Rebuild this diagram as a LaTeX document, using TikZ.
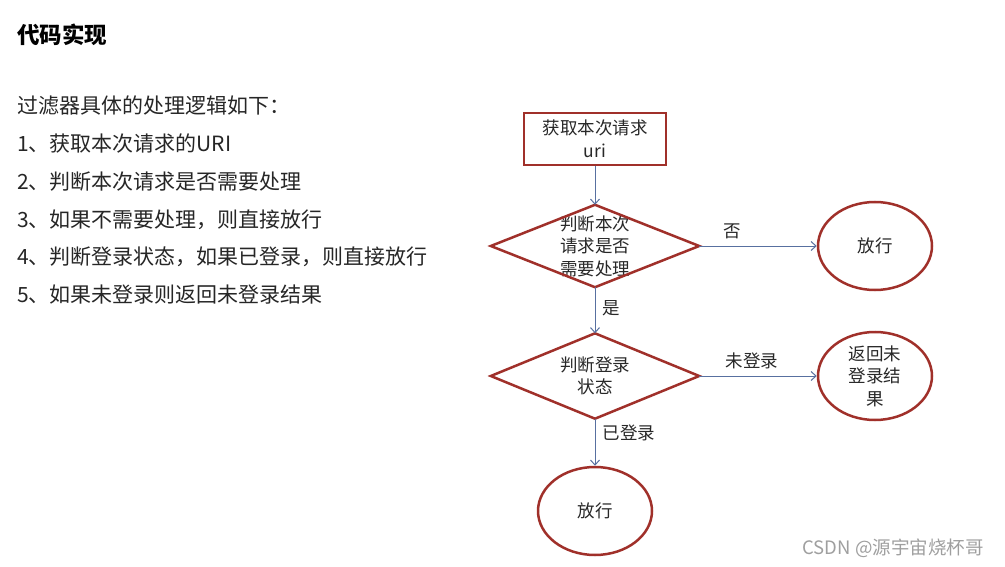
\documentclass[tikz,border=0pt]{standalone}
\usepackage{fontspec}
\setmainfont{Noto Sans CJK SC}
\usetikzlibrary{shapes.geometric,arrows.meta}
\definecolor{boxred}{RGB}{160,48,42}
\definecolor{linkblue}{RGB}{88,112,160}
\definecolor{inkgray}{RGB}{40,40,40}
\tikzstyle{arrow} = [linkblue, line width=1pt, -{Straight Barb[length=5pt,width=9pt]}]
\tikzstyle{process} = [draw=boxred, line width=2.5pt, minimum width=142pt, minimum height=52pt, align=center]
\tikzstyle{decision} = [minimum width=208pt, minimum height=82pt, inner sep=0pt, align=center]
\tikzstyle{terminal} = [ellipse, draw=boxred, line width=2.5pt, minimum width=114pt, minimum height=88pt, align=center, inner sep=0pt]
\tikzstyle{listtext} = [anchor=west, inner sep=0pt, font=\fontsize{21}{24}\selectfont, text=black!85]
\tikzstyle{branch} = [text=inkgray]

\begin{document}
\begin{tikzpicture}[x=1pt, y=-1pt, font=\fontsize{17.5}{22.5}\selectfont, text=inkgray]
  \useasboundingbox[fill=white] (0,0) rectangle (1005,567);
  % left column
  \node[anchor=west, inner sep=0pt, font=\fontsize{22.5}{26}\selectfont\bfseries, text=black] (title) at (17,35) {代码实现};
  \node[listtext] (intro) at (17,106) {过滤器具体的处理逻辑如下：};
  \foreach \i/\txt in {1/{1、获取本次请求的URI}, 2/{2、判断本次请求是否需要处理}, 3/{3、如果不需要处理，则直接放行}, 4/{4、判断登录状态，如果已登录，则直接放行}, 5/{5、如果未登录则返回未登录结果}}
    \node[listtext] (item\i) at (17,106+37.8*\i) {\txt};
  % flow chart
  \node[process] (req) at (595,139) {获取本次请求\\uri};
  \node[decision, below of=req, node distance=107pt] (chk) {判断本次\\请求是否\\需要处理};
  \node[decision, below of=chk, node distance=130pt, minimum height=85pt] (login) {判断登录\\状态};
  \node[terminal, below of=login, node distance=135pt] (pass2) {放行};
  \node[terminal, right of=chk, node distance=280pt] (pass1) {放行};
  \node[terminal, right of=login, node distance=280pt] (ret) {返回未\\登录结\\果};
  \foreach \d in {chk,login}
    \draw[boxred, line width=2.5pt] (\d.north) -- (\d.east) -- (\d.south) -- (\d.west) -- cycle;
  \draw[arrow] (req) -- (chk);
  \draw[arrow] (chk.east) -- node[branch, above, pos=0.28, yshift=3pt] (no) {否} (pass1);
  \draw[arrow] (chk) -- node[branch, right, xshift=4pt, yshift=2pt] (yes) {是} (login);
  \draw[arrow] (login.east) -- node[branch, above, pos=0.45, yshift=3pt] (notin) {未登录} (ret);
  \draw[arrow] (login) -- node[branch, right, pos=0.3, xshift=4pt] (done) {已登录} (pass2);
  \node[font=\fontsize{18.5}{20}\selectfont, text=gray!75] (mark) at (893,548) {CSDN @源宇宙烧杯哥};
\end{tikzpicture}
\end{document}
